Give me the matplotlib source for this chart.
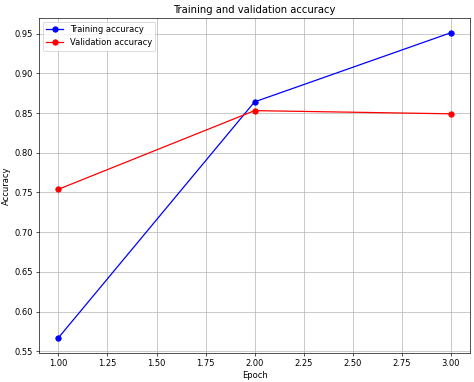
import matplotlib
matplotlib.use("Agg")
import matplotlib.pyplot as plt

epochs = [1, 2, 3]
train_acc = [0.567, 0.864, 0.951]
val_acc = [0.754, 0.853, 0.849]

# drawn at dpi 60 so default sizes come out small like the reference
fig = plt.figure(figsize=(474 / 60, 382 / 60), dpi=60)
plt.plot(epochs, train_acc, 'bo-', label='Training accuracy', markersize=6.5)
plt.plot(epochs, val_acc, 'ro-', label='Validation accuracy', markersize=6.5)
plt.title('Training and validation accuracy')
plt.xlabel('Epoch')
plt.ylabel('Accuracy')
plt.legend(loc='upper left')
plt.grid(True)
plt.subplots_adjust(left=0.082, right=0.992, top=0.954, bottom=0.076)
plt.savefig('out.png')
